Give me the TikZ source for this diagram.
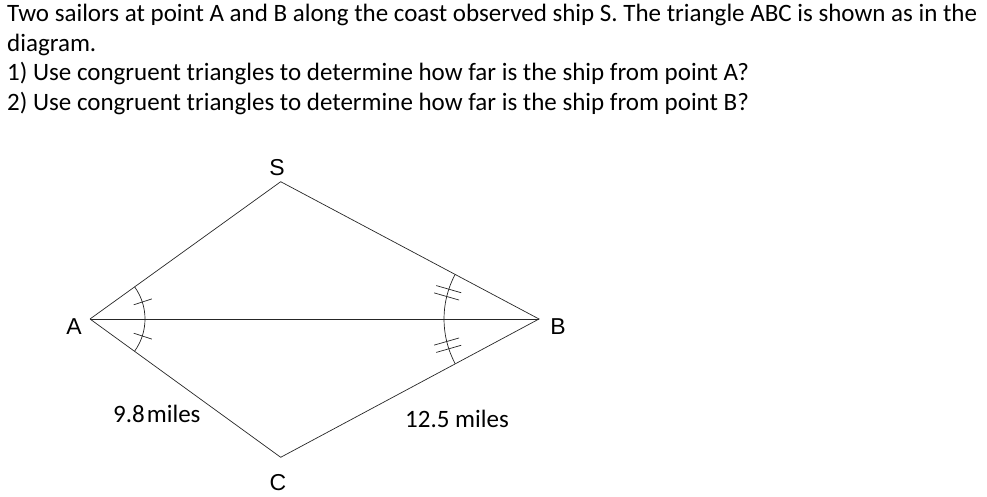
\documentclass[tikz,border=0pt]{standalone}
\usepackage{fontspec}
\setmainfont{Carlito}
\newfontfamily\arialf{Liberation Sans}
\usetikzlibrary{calc}
\begin{document}
\begin{tikzpicture}[x=1pt,y=-1pt,
  txt/.style={anchor=base west,inner sep=0pt,font=\fontsize{25}{29.5}\selectfont},
  vlab/.style={inner sep=0pt,font=\arialf\fontsize{23}{27}\selectfont},
  elab/.style={anchor=base west,inner sep=0pt,font=\fontsize{25}{29}\selectfont},
  side/.style={line width=0.7pt,black!85},
  angmark/.style={line width=0.7pt,black!85}]
\useasboundingbox (0,0) rectangle (987,497);
% question text
\node[txt] (t1) at (7,22) {Two sailors at point A and B along the coast observed ship S. The triangle ABC is shown as in the};
\node[txt] (t2) at (7,51.5) {diagram.};
\node[txt] (t3) at (7,81) {1) Use congruent triangles to determine how far is the ship from point A?};
\node[txt] (t4) at (7,110.5) {2) Use congruent triangles to determine how far is the ship from point B?};
% vertices
\coordinate (A) at (90,319);
\coordinate (B) at (539,319);
\coordinate (S) at (280.7,181.7);
\coordinate (C) at (280.7,457.3);
\draw[side] (A) -- (S) -- (B) -- (C) -- (A);
\draw[side] (A) -- (B);
% vertex labels
\node[vlab] (lA) at (74,327) {A};
\node[vlab] (lB) at (558,327) {B};
\node[vlab] (lS) at (277,168) {S};
\node[vlab] (lC) at (278,483) {C};
% side labels
\node[elab] (l98) at (113,422) {9.8\kern2pt miles};
\node[elab] (l125) at (405,427) {12.5 miles};
% angle marks at A
\draw[angmark] ($(A)+(-35.8:55)$) arc[start angle=-35.8,end angle=35.8,radius=55];
\draw[angmark] ($(A)+(-18:46)$) -- ($(A)+(-18:65)$);
\draw[angmark] ($(A)+(18:46)$) -- ($(A)+(18:65)$);
% angle marks at B
\draw[angmark] ($(B)+(152:95)$) arc[start angle=152,end angle=208,radius=95];
\foreach \a in {164,196}{
  \draw[angmark] ($(B)+(\a:82)+(\a+90:3.8)$) -- ($(B)+(\a:108)+(\a+90:3.8)$);
  \draw[angmark] ($(B)+(\a:82)+(\a-90:3.8)$) -- ($(B)+(\a:108)+(\a-90:3.8)$);
}
\end{tikzpicture}
\end{document}
